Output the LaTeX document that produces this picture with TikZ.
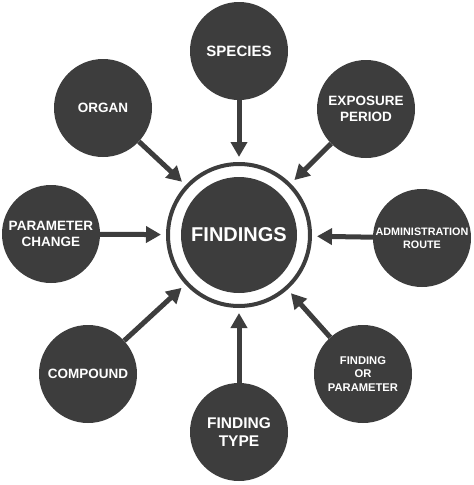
\documentclass[tikz,border=0pt]{standalone}
\usepackage{fontspec}
\setmainfont{Liberation Sans}
\usetikzlibrary{arrows.meta}
\definecolor{darkfill}{HTML}{3D3D3D}
\tikzset{
bubble/.style={circle,fill=darkfill,text=white,minimum size=98pt,inner sep=0pt,align=center,font=\bfseries\fontsize{13.5}{15.5}\selectfont},
hub/.style={circle,fill=darkfill,text=white,minimum size=116pt,inner sep=0pt,outer sep=20pt,font=\bfseries\fontsize{20}{24}\selectfont},
hubring/.style={circle,draw=darkfill,line width=4pt,minimum size=142pt,inner sep=0pt},
feed/.style={draw=darkfill,line width=5pt,-{Triangle[length=15pt,width=16pt]}}
}
\begin{document}
\begin{tikzpicture}[x=1pt,y=-1pt]
\useasboundingbox (0,0) rectangle (474,485);
% centre
\node[hub] (findings) at (239,235) {FINDINGS};
\node[hubring] (ring) at (findings.center) {};
% satellites
\node[bubble,font=\bfseries\fontsize{15}{18}\selectfont] (species) at (239,51) {SPECIES};
\node[bubble] (organ) at (103,108) {ORGAN};
\node[bubble] (exposure) at (366,109) {EXPOSURE\\PERIOD};
\node[bubble] (paramchange) at (51,234) {PARAMETER\\CHANGE};
\node[bubble,font=\bfseries\fontsize{10.8}{13.3}\selectfont] (admin) at (422,238) {ADMINISTRATION\\ROUTE};
\node[bubble] (compound) at (88,374) {COMPOUND};
\node[bubble,font=\bfseries\fontsize{15.5}{18.3}\selectfont] (findtype) at (239,432) {FINDING\\TYPE};
\node[bubble,font=\bfseries\fontsize{11.2}{13.3}\selectfont] (findparam) at (363,374) {FINDING\\OR\\PARAMETER};
% arrows
\foreach \s in {species,organ,exposure,paramchange,admin,compound,findtype,findparam} {
\draw[feed] (\s) -- (findings);
}
\end{tikzpicture}
\end{document}
